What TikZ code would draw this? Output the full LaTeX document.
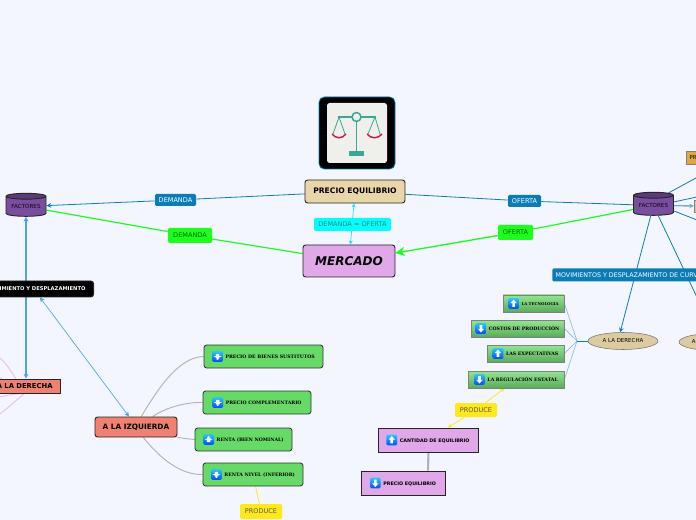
\documentclass[tikz,border=0pt]{standalone}
\usepackage{fontspec}
\setmainfont{DejaVu Sans}
\newfontfamily\serifbox{DejaVu Serif}
\usetikzlibrary{shapes.geometric,arrows.meta}
\definecolor{fondo}{HTML}{F4F6FF}
\definecolor{azul}{HTML}{0A7CB8}
\definecolor{azulclaro}{HTML}{4DA0F0}
\definecolor{cian}{HTML}{00FFFF}
\definecolor{verdelink}{HTML}{1CFF1C}
\definecolor{salmon}{HTML}{F08070}
\definecolor{malva}{HTML}{E0A8E8}
\definecolor{crema}{HTML}{E8D5A8}
\definecolor{tostado}{HTML}{DCCBA0}
\definecolor{oro}{HTML}{DDA93F}
\definecolor{violeta1}{HTML}{7A4E9E}
\definecolor{violeta2}{HTML}{5A3A7C}
\definecolor{verdebox}{HTML}{66D966}
\definecolor{amarillo}{HTML}{FFE81C}
\definecolor{teal}{HTML}{3AA795}
\definecolor{platillo}{HTML}{C8203C}
\definecolor{lienzo}{HTML}{EFF0EC}
\pgfdeclarelayer{fondolayer}
\pgfdeclarelayer{links}
\pgfsetlayers{fondolayer,links,main}
\newcommand{\icoarriba}{\tikz[x=1pt,y=1pt,baseline=2.2pt]{
    \shade[top color=cyan!40!azulclaro,bottom color=blue!70!cyan,rounded corners=1pt] (0,0) rectangle (8,8);
    \fill[white] (4,7) -- (6.4,4.2) -- (5,4.2) -- (5,1.4) -- (3,1.4) -- (3,4.2) -- (1.6,4.2) -- cycle;}}
\newcommand{\icoabajo}{\tikz[x=1pt,y=1pt,baseline=2.2pt]{
    \shade[top color=cyan!40!azulclaro,bottom color=blue!70!cyan,rounded corners=1pt] (0,0) rectangle (8,8);
    \fill[white] (4,1) -- (6.4,3.8) -- (5,3.8) -- (5,6.6) -- (3,6.6) -- (3,3.8) -- (1.6,3.8) -- cycle;}}
\tikzset{
  etiqueta/.style={inner sep=0pt,rounded corners=1pt,font=\fontsize{4.9}{5}\selectfont},
  caja/.style={draw=black!85,line width=.7pt,inner sep=0pt,rounded corners=2pt,font=\bfseries\fontsize{5.5}{6}\selectfont},
  verde/.style={draw=black!80,line width=.6pt,fill=verdebox,inner sep=0pt,rounded corners=2pt,minimum height=17.25pt,font=\serifbox\bfseries\fontsize{3.5}{4}\selectfont},
  pestana/.style={draw=black!50,line width=.6pt,top color=verdebox!70,bottom color=green!50!black!65,inner sep=0pt,minimum height=12.75pt,font=\serifbox\bfseries\fontsize{3.5}{4}\selectfont},
  violeta/.style={draw=black!85,line width=.7pt,fill=malva,inner sep=0pt,minimum height=18pt,font=\bfseries\fontsize{3.6}{4}\selectfont},
  factores/.style={cylinder,shape border rotate=90,aspect=.2,draw=black!85,line width=.7pt,inner sep=0pt,text=black!85!violet,
    cylinder uses custom fill,cylinder body fill=violeta1,cylinder end fill=violeta2,
    minimum width=30pt,minimum height=17.25pt,font=\fontsize{4.2}{5}\selectfont},
  elipse/.style={ellipse,draw=black!55,line width=.4pt,fill=tostado,inner sep=0pt,minimum width=52.5pt,minimum height=12.75pt,font=\fontsize{4.1}{5}\selectfont},
  azullink/.style={draw=azul,line width=.6pt,-{Stealth[length=3.5pt,width=3.5pt]}},
  azulsin/.style={draw=azul,line width=.6pt},
  celeste/.style={draw=azulclaro,line width=.6pt},
  gris/.style={draw=black!30,line width=.7pt},
  rosa/.style={draw=malva!75,line width=.7pt},
  pale/.style={draw=azul!50,line width=.5pt},
  amarillolink/.style={draw=amarillo,line width=.6pt}
}
\begin{document}
\begin{tikzpicture}[x=.75pt,y=-.75pt]
  \useasboundingbox (0,0) rectangle (696,520);
  \clip (0,0) rectangle (696,520);
  \begin{pgfonlayer}{fondolayer}
    \fill[fondo] (0,0) rectangle (696,520);
  \end{pgfonlayer}

  % imagen de la balanza
  \node[draw=azul,line width=.6pt,fill=black,rounded corners=4pt,minimum width=57pt,minimum height=54pt,inner sep=0pt] (balanza) at (357,133) {};
  \fill[lienzo,rounded corners=2pt] (327,103) rectangle (387,163);
  \draw[teal,line width=1.1pt] (338,117) -- (352,117) (361,117) -- (376,117) (356.5,121) -- (356.5,152);
  \draw[teal,line width=1.1pt] (356.5,117) circle (4.5);
  \fill[teal] (349,151) rectangle (364,156);
  \draw[teal,line width=.6pt] (333,134) -- (339,117) -- (345,134) (368,134) -- (375,117) -- (380,134);
  \draw[platillo,line width=1.1pt] (332,134) .. controls (336,139) and (342,139) .. (346,134);
  \draw[platillo,line width=1.1pt] (367,134) .. controls (371,139) and (378,139) .. (382,134);

  % centro
  \node[caja,fill=crema,minimum width=75pt,minimum height=17.25pt,font=\bfseries\fontsize{5.7}{6}\selectfont] (precio) at (355,191.5) {PRECIO EQUILIBRIO};
  \node[caja,fill=malva,minimum width=69pt,minimum height=24pt,font=\bfseries\itshape\fontsize{9}{10}\selectfont] (mercado) at (349,261) {MERCADO};
  \node[etiqueta,fill=cian,text=teal!80!black,minimum width=57.75pt,minimum height=9.75pt] (igual) at (352.5,224.5) {DEMANDA = OFERTA};
  \node[etiqueta,fill=azul,text=white,minimum width=30.75pt,minimum height=9pt] (demazul) at (175.5,200) {DEMANDA};
  \node[etiqueta,fill=verdelink,text=green!40!black,minimum width=33pt,minimum height=11.25pt] (demverde) at (190,235.5) {DEMANDA};
  \node[etiqueta,fill=azul,text=white,minimum width=24.75pt,minimum height=9pt] (ofeazul) at (524.5,201) {OFERTA};
  \node[etiqueta,fill=verdelink,text=green!40!black,minimum width=26.25pt,minimum height=11.25pt] (ofeverde) at (515.5,232.5) {OFERTA};
  \node[factores] (factizq) at (26,206.5) {FACTORES};
  \node[factores] (factder) at (653.5,205.5) {FACTORES};

  % lado izquierdo
  \node[caja,fill=black,text=white,anchor=east,inner xsep=6pt,minimum height=12pt,font=\bfseries\fontsize{3.9}{4}\selectfont] (movizq) at (94,289) {MOVIMIENTO Y DESPLAZAMIENTO};
  \node[caja,fill=salmon,rounded corners=0pt,anchor=east,inner xsep=6pt,minimum height=10.5pt,font=\bfseries\fontsize{5.1}{6}\selectfont] (derizq) at (61,386) {A LA DERECHA};
  \node[caja,fill=salmon,minimum width=61.5pt,minimum height=15pt] (izquierda) at (136,427) {A LA IZQUIERDA};
  \node[verde,minimum width=89.25pt] (sustitutos) at (263.5,356.5) {\icoarriba\hspace{2pt}PRECIO DE BIENES SUSTITUTOS};
  \node[verde,minimum width=81pt] (complementario) at (257,402.5) {\icoarriba\hspace{2pt}PRECIO COMPLEMENTARIO};
  \node[verde,minimum width=72.75pt] (nominal) at (243.5,439.5) {\icoabajo\hspace{2pt}RENTA (BIEN NOMINAL)};
  \node[verde,minimum width=75pt] (inferior) at (253,474.5) {\icoarriba\hspace{2pt}RENTA NIVEL (INFERIOR)};
  \node[etiqueta,fill=amarillo,text=black!65,minimum width=31.5pt,minimum height=11.25pt] (produceizq) at (261,511.5) {PRODUCE};

  % lado derecho
  \node[etiqueta,fill=azul,text=white,anchor=west,inner xsep=2.5pt,minimum height=9.75pt,font=\fontsize{4.75}{5}\selectfont] (movder) at (552,275) {MOVIMIENTOS Y DESPLAZAMIENTO DE CURVA};
  \node[elipse] (elider) at (623,341) {A LA DERECHA};
  \node[elipse] (eliizq) at (714,342) {A LA IZQUIERDA};
  \node[pestana,minimum width=45.75pt,font=\serifbox\bfseries\fontsize{2.9}{4}\selectfont] (tecnologia) at (533.5,303.5) {\icoarriba\hspace{2pt}LA TECNOLOGIA};
  \node[pestana,minimum width=69.75pt] (costos) at (517.5,328.5) {\icoabajo\hspace{2pt}COSTOS DE PRODUCCIÓN};
  \node[pestana,minimum width=57.75pt] (expectativas) at (525.5,353.5) {\icoarriba\hspace{2pt}LAS EXPECTATIVAS};
  \node[pestana,minimum width=72pt] (regulacion) at (516,379.5) {\icoabajo\hspace{2pt}LA REGULACIÓN ESTATAL};
  \node[etiqueta,fill=amarillo,text=black!65,minimum width=31.5pt,minimum height=10.5pt] (producecen) at (476,410) {PRODUCE};
  \node[violeta,minimum width=75pt] (cantidad) at (428,440) {\icoarriba\hspace{2pt}CANTIDAD DE EQUILIBRIO};
  \node[violeta,minimum width=63pt] (precioeq) at (403,483) {\icoabajo\hspace{2pt}PRECIO EQUILIBRIO};
  \node[draw=black!50,line width=.6pt,fill=oro,inner sep=0pt,anchor=west,inner xsep=2.5pt,minimum height=9.75pt,font=\fontsize{4}{5}\selectfont] (precioder) at (686,157.5) {PRECIO};
  \node[draw=black!50,fill=tostado,minimum width=6pt,minimum height=9pt,inner sep=0pt,anchor=west] (cajader) at (694,206) {};

  \coordinate (junta) at (577,341);
  \coordinate (salida1) at (696,178);
  \coordinate (salida2) at (697,197);
  \coordinate (salida3) at (697,220);
  \coordinate (rosa1) at (-6,354);
  \coordinate (rosa2) at (-6,376);
  \coordinate (rosa3) at (-6,398);
  \coordinate (rosa4) at (-6,418);

  \begin{pgfonlayer}{links}
    \draw[rosa] (rosa1) .. controls (6,360) and (14,376) .. (derizq.south);
    \draw[rosa] (rosa2) -- (derizq);
    \draw[rosa] (rosa3) .. controls (5,396) and (12,394) .. (derizq.south);
    \draw[rosa] (rosa4) .. controls (6,410) and (14,402) .. (derizq.south);

    \draw[azulsin] (precio) -- (demazul);
    \draw[azullink] (demazul) -- (factizq);
    \draw[azulsin] (precio) -- (ofeazul);
    \draw[azulsin] (ofeazul) -- (factder);
    \draw[draw=verdelink,line width=.9pt] (factizq) -- (demverde) -- (mercado);
    \draw[draw=verdelink,line width=.9pt] (factder) -- (ofeverde);
    \draw[draw=verdelink,line width=1pt,-{Stealth[length=7pt,width=7pt]}] (ofeverde) -- (mercado);
    \draw[draw=cian!70!azulclaro,line width=.5pt,{Stealth[length=3pt,width=3pt]}-{Stealth[length=3pt,width=3pt]}] (precio) -- (mercado);

    \draw[celeste,line width=.8pt,-{Stealth[length=3.5pt,width=3.5pt]}] (movizq.north -| factizq) -- (factizq);
    \draw[celeste,line width=.8pt,-{Stealth[length=3.5pt,width=3.5pt]}] (movizq.south -| factizq) -- (derizq.north -| factizq);
    \draw[celeste,line width=.5pt,{Stealth[length=3.5pt,width=3.5pt]}-{Stealth[length=3.5pt,width=3.5pt]}] (movizq.south east) ++(-54,0) -- (izquierda.north -| 129,0);

    \draw[gris] (izquierda.63) .. controls (160,385) and (180,357) .. (sustitutos.west);
    \draw[gris] (izquierda.32) .. controls (165,408) and (185,402) .. (complementario.west);
    \draw[gris] (izquierda.-14) .. controls (182,438) and (188,439) .. (nominal.west);
    \draw[gris] (izquierda.-55) .. controls (160,458) and (180,475) .. (inferior.west);
    \draw[amarillolink] (inferior) -- (produceizq);

    \draw[azulsin,-{Stealth[length=3.5pt,width=3.5pt]}] (factder.255) -- (elider.108);
    \draw[azulsin] (factder.295) -- (eliizq.north);
    \draw[azulsin] (factder.40) -- (salida1);
    \draw[azulsin] (factder.10) -- (salida2);
    \draw[azulsin] (factder.-15) -- (salida3);
    \draw[azul!60,line width=1pt,-{Stealth[length=3.5pt,width=3.5pt]}] (factder) -- (cajader);

    \draw[pale] (tecnologia.east) -- (junta);
    \draw[pale] (costos.east) -- (junta);
    \draw[pale] (expectativas.east) -- (junta);
    \draw[pale] (regulacion.east) -- (junta);
    \draw[azulsin] (junta) -- (elider);

    \draw[amarillolink,{Stealth[length=3pt,width=3pt]}-] (regulacion) -- (producecen);
    \draw[amarillolink,-{Stealth[length=3pt,width=3pt]}] (producecen) -- (cantidad);
    \draw[draw=black!30,line width=1.6pt] (cantidad.south -| precioeq.east) ++(-17,0) -- (precioeq.north -| 428,0);
  \end{pgfonlayer}
\end{tikzpicture}
\end{document}
